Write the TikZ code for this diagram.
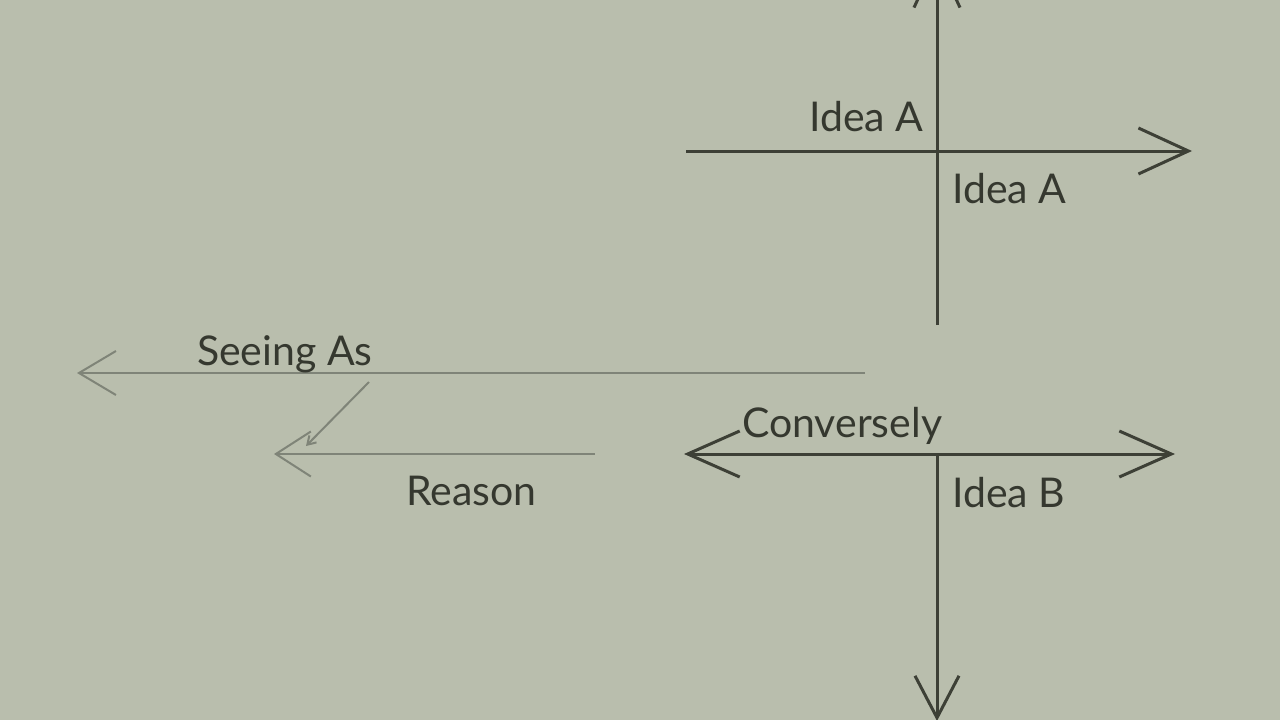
\documentclass[tikz,border=0pt]{standalone}
\usepackage{fontspec}
\setmainfont{Lato}
\usetikzlibrary{arrows.meta}
\definecolor{bg}{HTML}{B9BEAD}
\definecolor{ink}{HTML}{3D4036}
\definecolor{inklight}{HTML}{7F8478}
\definecolor{txt}{HTML}{35382F}
\begin{document}
\begin{tikzpicture}[x=1pt,y=-1pt,
  darkline/.style={draw=ink,line width=3pt},
  lightline/.style={draw=inklight,line width=2pt},
  lbl/.style={inner sep=0pt,anchor=base west,text=txt,font=\fontsize{41}{48}\selectfont}]
\fill[bg] (0,0) rectangle (1280,720);
\useasboundingbox (0,0) rectangle (1280,720);
\begin{scope}
\clip (0,0) rectangle (1280,720);
% top cross
\coordinate (v1top) at (937,-46);
\coordinate (v1bot) at (937,325);
\coordinate (h1l) at (686,151);
\coordinate (h1r) at (1192,151);
\draw[darkline,-{Straight Barb[length=50pt,width=46pt]}] (v1bot) -- (v1top);
\draw[darkline,-{Straight Barb[length=50pt,width=46pt]}] (h1l) -- (h1r);
\node[lbl] (ia1) at (809,131) {Idea A};
\node[lbl] (ia2) at (952,203) {Idea A};
% seeing as
\coordinate (sa1) at (865,373);
\coordinate (sa2) at (77,373);
\draw[lightline,-{Straight Barb[length=37pt,width=44pt]}] (sa1) -- (sa2);
\node[lbl] (seeing) at (197,365) {Seeing As};
% reason
\coordinate (r1) at (595,454);
\coordinate (r2) at (274,454);
\draw[lightline,-{Straight Barb[length=35pt,width=45pt]}] (r1) -- (r2);
\node[lbl] (reason) at (406,505) {Reason};
% diagonal
\coordinate (d1) at (369,382);
\coordinate (d2) at (306,446);
\draw[lightline,-{Straight Barb[length=8pt,width=10pt]}] (d1) -- (d2);
% conversely
\coordinate (c1) at (684,454);
\coordinate (c2) at (1175,454);
\coordinate (vt) at (937,454);
\coordinate (vb) at (937,721);
\draw[darkline,{Straight Barb[length=52pt,width=46pt]}-{Straight Barb[length=52pt,width=46pt]}] (c1) -- (c2);
\draw[darkline,-{Straight Barb[length=42pt,width=44pt]}] (vt) -- (vb);
\node[lbl] (conv) at (742,437) {Conversely};
\node[lbl] (ib) at (952,507) {Idea B};
\end{scope}
\end{tikzpicture}
\end{document}
